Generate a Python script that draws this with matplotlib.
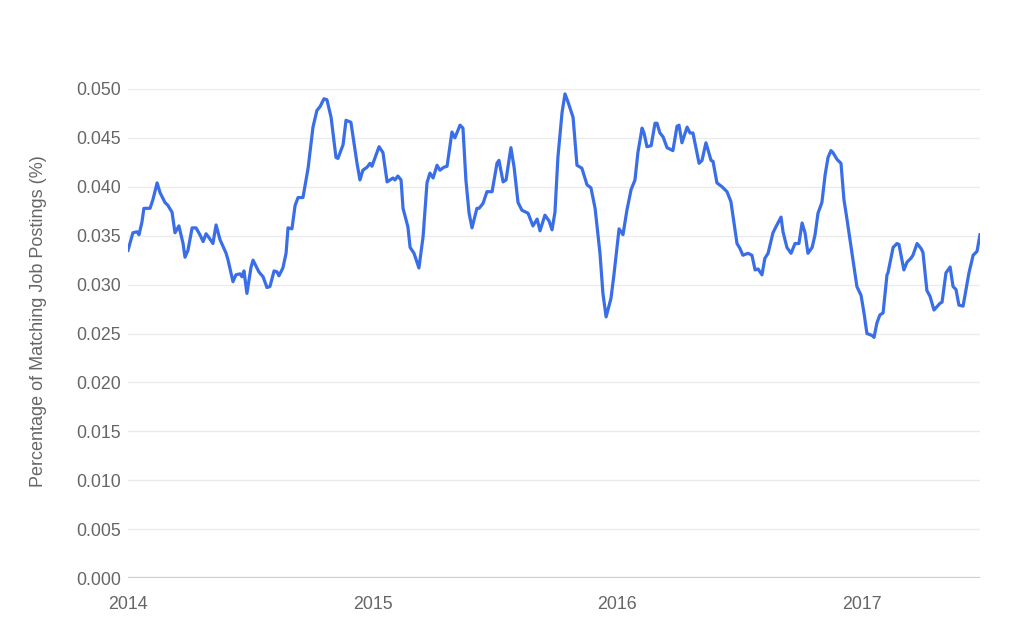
import numpy as np
import matplotlib
matplotlib.use("Agg")
import matplotlib.pyplot as plt

# decimal year offsets from 2014 and share of matching postings (%)
year_offset = [
    0.000, 0.020, 0.037, 0.045, 0.057, 0.065, 0.090, 0.102, 0.119, 0.131,
    0.151, 0.163, 0.180, 0.192, 0.208, 0.225, 0.233, 0.245, 0.262, 0.278,
    0.294, 0.307, 0.319, 0.331, 0.347, 0.360, 0.376, 0.401, 0.409, 0.429,
    0.441, 0.458, 0.466, 0.474, 0.486, 0.503, 0.511, 0.535, 0.552, 0.568,
    0.580, 0.597, 0.609, 0.617, 0.633, 0.646, 0.654, 0.670, 0.683, 0.695,
    0.715, 0.736, 0.756, 0.772, 0.785, 0.801, 0.813, 0.830, 0.850, 0.858,
    0.879, 0.891, 0.911, 0.936, 0.948, 0.960, 0.977, 0.989, 0.997, 1.026,
    1.042, 1.059, 1.083, 1.091, 1.103, 1.116, 1.124, 1.144, 1.153, 1.169,
    1.189, 1.206, 1.222, 1.234, 1.247, 1.263, 1.275, 1.291, 1.304, 1.324,
    1.336, 1.357, 1.369, 1.381, 1.394, 1.406, 1.426, 1.435, 1.451, 1.467,
    1.488, 1.508, 1.516, 1.533, 1.545, 1.565, 1.578, 1.594, 1.610, 1.635,
    1.655, 1.672, 1.684, 1.704, 1.721, 1.733, 1.745, 1.757, 1.774, 1.786,
    1.798, 1.819, 1.835, 1.855, 1.876, 1.892, 1.909, 1.929, 1.941, 1.954,
    1.974, 1.986, 2.007, 2.023, 2.039, 2.056, 2.072, 2.084, 2.101, 2.109,
    2.121, 2.138, 2.154, 2.162, 2.174, 2.187, 2.203, 2.227, 2.244, 2.252,
    2.264, 2.285, 2.297, 2.309, 2.334, 2.346, 2.362, 2.383, 2.391, 2.407,
    2.428, 2.448, 2.464, 2.489, 2.501, 2.513, 2.534, 2.550, 2.563, 2.575,
    2.591, 2.603, 2.616, 2.636, 2.652, 2.669, 2.677, 2.693, 2.710, 2.726,
    2.742, 2.755, 2.767, 2.779, 2.796, 2.808, 2.820, 2.836, 2.849, 2.861,
    2.873, 2.881, 2.898, 2.914, 2.926, 2.939, 2.959, 2.979, 2.996, 3.008,
    3.020, 3.041, 3.049, 3.061, 3.073, 3.086, 3.102, 3.106, 3.127, 3.143,
    3.151, 3.171, 3.184, 3.200, 3.208, 3.225, 3.241, 3.249, 3.265, 3.278,
    3.294, 3.319, 3.327, 3.343, 3.360, 3.372, 3.384, 3.396, 3.413, 3.437,
    3.454, 3.470, 3.482,
]
share = [
    0.0335, 0.0353, 0.0354, 0.0351, 0.0364, 0.0378, 0.0378, 0.0387, 0.0404, 0.0394,
    0.0384, 0.0381, 0.0374, 0.0353, 0.0360, 0.0342, 0.0328, 0.0335, 0.0358, 0.0358,
    0.0351, 0.0344, 0.0352, 0.0348, 0.0342, 0.0361, 0.0346, 0.0332, 0.0325, 0.0303,
    0.0310, 0.0311, 0.0308, 0.0314, 0.0291, 0.0318, 0.0325, 0.0313, 0.0308, 0.0297,
    0.0298, 0.0314, 0.0313, 0.0309, 0.0317, 0.0332, 0.0358, 0.0357, 0.0381, 0.0389,
    0.0389, 0.0419, 0.0461, 0.0478, 0.0482, 0.0490, 0.0489, 0.0471, 0.0430, 0.0429,
    0.0443, 0.0468, 0.0466, 0.0424, 0.0407, 0.0417, 0.0420, 0.0424, 0.0421, 0.0441,
    0.0435, 0.0405, 0.0409, 0.0407, 0.0411, 0.0407, 0.0378, 0.0359, 0.0338, 0.0332,
    0.0317, 0.0349, 0.0404, 0.0414, 0.0409, 0.0422, 0.0417, 0.0420, 0.0421, 0.0456,
    0.0450, 0.0463, 0.0460, 0.0407, 0.0373, 0.0358, 0.0378, 0.0378, 0.0383, 0.0395,
    0.0395, 0.0424, 0.0427, 0.0405, 0.0407, 0.0440, 0.0420, 0.0384, 0.0376, 0.0373,
    0.0360, 0.0367, 0.0355, 0.0371, 0.0365, 0.0356, 0.0374, 0.0430, 0.0476, 0.0495,
    0.0487, 0.0471, 0.0422, 0.0419, 0.0402, 0.0399, 0.0378, 0.0332, 0.0291, 0.0267,
    0.0286, 0.0310, 0.0357, 0.0351, 0.0376, 0.0397, 0.0407, 0.0435, 0.0460, 0.0455,
    0.0441, 0.0442, 0.0465, 0.0465, 0.0455, 0.0451, 0.0440, 0.0437, 0.0462, 0.0463,
    0.0445, 0.0461, 0.0455, 0.0455, 0.0424, 0.0427, 0.0445, 0.0427, 0.0426, 0.0404,
    0.0400, 0.0395, 0.0385, 0.0342, 0.0337, 0.0330, 0.0332, 0.0330, 0.0315, 0.0316,
    0.0310, 0.0327, 0.0332, 0.0353, 0.0361, 0.0369, 0.0354, 0.0338, 0.0332, 0.0342,
    0.0342, 0.0363, 0.0353, 0.0332, 0.0338, 0.0351, 0.0373, 0.0384, 0.0412, 0.0430,
    0.0437, 0.0435, 0.0428, 0.0424, 0.0387, 0.0366, 0.0332, 0.0298, 0.0289, 0.0271,
    0.0250, 0.0248, 0.0246, 0.0261, 0.0269, 0.0271, 0.0310, 0.0312, 0.0338, 0.0342,
    0.0341, 0.0315, 0.0323, 0.0327, 0.0330, 0.0342, 0.0337, 0.0333, 0.0294, 0.0288,
    0.0274, 0.0281, 0.0282, 0.0312, 0.0318, 0.0298, 0.0295, 0.0279, 0.0278, 0.0312,
    0.0330, 0.0334, 0.0351,
]
years = [2014, 2015, 2016, 2017]
y_ticks = [0.000, 0.005, 0.010, 0.015, 0.020, 0.025, 0.030, 0.035, 0.040, 0.045, 0.050]

x = 2014 + np.array(year_offset)

plt.rcParams['font.family'] = ['Liberation Sans', 'DejaVu Sans']
fig = plt.figure(figsize=(10.24, 6.32), dpi=100)
ax = fig.add_axes([0.125, 0.0854, 0.832, 0.7738])

ax.plot(x, share, color='#3a6ee8', lw=2.3, solid_joinstyle='round', zorder=3)

ax.set_xlim(2014, x[-1])
ax.set_ylim(0, 0.05)
ax.set_yticks(y_ticks)
ax.set_yticklabels(["%.3f" % v for v in y_ticks])
ax.set_xticks(years)
ax.set_xticklabels([str(y) for y in years])

for v in y_ticks[1:]:
    ax.axhline(v, color='#ebebeb', lw=1.0, zorder=0)
ax.axhline(0, color='#cccccc', lw=1.6, zorder=1)

for s in ax.spines.values():
    s.set_visible(False)
ax.tick_params(axis='both', length=0, colors='#666666', labelsize=12.8)
ax.tick_params(axis='y', pad=5)
ax.tick_params(axis='x', pad=13)
ax.set_ylabel("Percentage of Matching Job Postings (%)", color='#666666',
              fontsize=13)
ax.yaxis.set_label_coords(-0.095, 0.525)

fig.savefig("out.png", dpi=100)
